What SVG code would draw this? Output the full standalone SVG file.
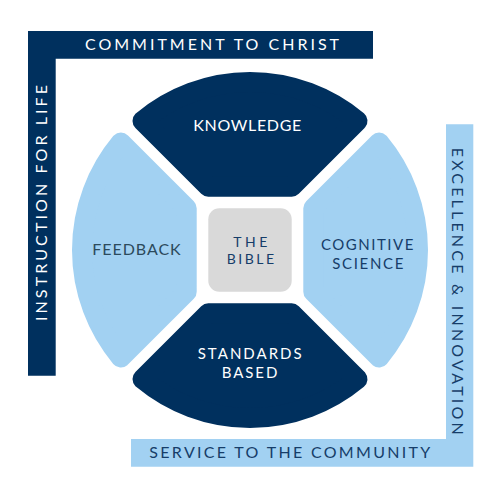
<svg xmlns="http://www.w3.org/2000/svg" width="500" height="500" viewBox="0 0 500 500">
<style>
text{font-family:Lato,"Open Sans","Liberation Sans",sans-serif;font-size:16px}
.navy{fill:#00305E}
.light{fill:#A2D1F2}
.seg-d{fill:#00305E;stroke:#00305E;stroke-width:20;stroke-linejoin:round}
.seg-l{fill:#A2D1F2;stroke:#A2D1F2;stroke-width:20;stroke-linejoin:round}
.wt{fill:#FFFFFF}
.nt{fill:#163D69}
.ft{fill:#2C4A5C}
.two{font-size:15px}
.bib{font-size:14px}
</style>
<rect width="500" height="500" fill="#FFFFFF"/>
<g id="frame-commitment">
<path class="navy" d="M28 31 H373 V58.7 H55.7 V375.7 H28 Z"/>
<text class="wt" x="85" y="50" textLength="254" lengthAdjust="spacing">COMMITMENT TO CHRIST</text>
<text class="wt" transform="translate(46.7,321) rotate(-90)" x="0" y="0" textLength="236" lengthAdjust="spacing">INSTRUCTION FOR LIFE</text>
</g>
<g id="frame-service">
<path class="light" d="M446 124.3 H473.3 V466.7 H131 V439 H446 Z"/>
<text class="nt" x="149.3" y="457.7" font-size="15.5" textLength="281" lengthAdjust="spacing">SERVICE TO THE COMMUNITY</text>
<text class="nt" transform="translate(451.7,147.7) rotate(90)" x="0" y="0" textLength="287" lengthAdjust="spacing">EXCELLENCE &amp; INNOVATION</text>
</g>
<g id="knowledge">
<path class="seg-d" d="M208.3 186.7 L142.5 120.9 A168 168 0 0 1 357.5 120.9 L291.7 186.7 Z"/>
<text class="wt" x="193.3" y="131" textLength="108" lengthAdjust="spacing">KNOWLEDGE</text>
</g>
<g id="feedback">
<path class="seg-l" d="M186.7 208.3 L120.9 142.5 A168 168 0 0 0 120.9 357.5 L186.7 291.7 Z"/>
<text class="ft" x="92.3" y="255" textLength="88.4" lengthAdjust="spacing">FEEDBACK</text>
</g>
<g id="cognitive-science">
<path class="seg-l" d="M313.3 208.3 L379.1 142.5 A168 168 0 0 1 379.1 357.5 L313.3 291.7 Z"/>
<text class="nt two" x="321" y="250" textLength="92.3" lengthAdjust="spacing">COGNITIVE</text>
<text class="nt two" x="332.3" y="269.3" textLength="71" lengthAdjust="spacing">SCIENCE</text>
</g>
<g id="standards-based">
<path class="seg-d" d="M208.3 313.3 L142.5 379.1 A168 168 0 0 0 357.5 379.1 L291.7 313.3 Z"/>
<text class="wt two" x="197.7" y="359" textLength="104" lengthAdjust="spacing">STANDARDS</text>
<text class="wt two" x="221.7" y="377.7" textLength="55.6" lengthAdjust="spacing">BASED</text>
</g>
<g id="the-bible">
<rect x="208.3" y="208.3" width="83.4" height="83.4" rx="11" fill="#D9D9D9"/>
<text class="nt bib" x="233.3" y="246.7" textLength="34" lengthAdjust="spacing">THE</text>
<text class="nt bib" x="226.7" y="264" textLength="47.3" lengthAdjust="spacing">BIBLE</text>
</g>
<g id="connectors"></g>
</svg>
